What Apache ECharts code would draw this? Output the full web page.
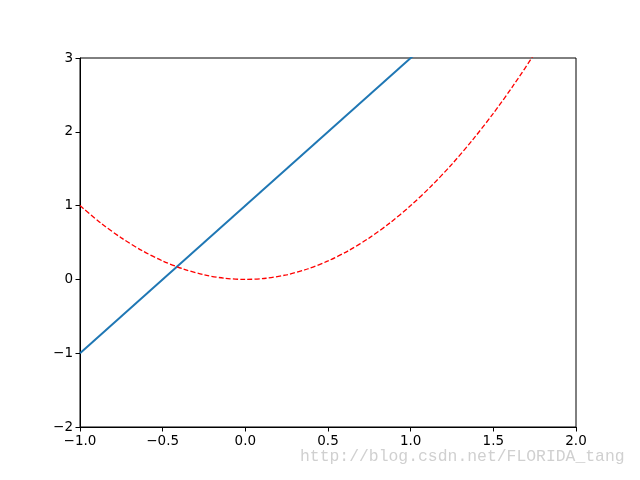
<!DOCTYPE html>
<html><head><meta charset="utf-8">
<script src="https://cdn.jsdelivr.net/npm/echarts@6/dist/echarts.min.js"></script>
<style>html,body{margin:0;padding:0;background:#fff}#c{width:640px;height:480px}</style>
</head><body><div id="c"></div>
<script>
var xLine = [-1, 2];
var yLine = [-1, 5];
var xCurve = [-1, -0.875, -0.75, -0.625, -0.5, -0.375, -0.25, -0.125, 0, 0.125, 0.25, 0.375, 0.5, 0.625, 0.75, 0.875, 1, 1.125, 1.25, 1.375, 1.5, 1.625, 1.75, 1.875, 2];
var yCurve = [1, 0.766, 0.5625, 0.391, 0.25, 0.141, 0.0625, 0.0156, 0, 0.0156, 0.0625, 0.141, 0.25, 0.391, 0.5625, 0.766, 1, 1.266, 1.5625, 1.891, 2.25, 2.641, 3.0625, 3.516, 4];
var xTicks = [-1.0, -0.5, 0.0, 0.5, 1.0, 1.5, 2.0];
var yTicks = [-2, -1, 0, 1, 2, 3];

function fmt(v, d) {
  var s = d ? Math.abs(v).toFixed(d) : String(Math.abs(Math.round(v)));
  return (v < 0 ? '\u2212' : '') + s;
}
function zip(a, b) { return a.map(function (v, i) { return [v, b[i]]; }); }

var chart = echarts.init(document.getElementById('c'), null, {renderer: 'canvas'});
chart.setOption({
  animation: false,
  grid: {left: 80, right: 64, top: 58, bottom: 53, show: true, borderColor: '#000', borderWidth: 1, containLabel: false},
  xAxis: {
    type: 'value', min: -1, max: 2, interval: 0.5,
    axisLine: {show: true, onZero: false, lineStyle: {color: '#000', width: 1}},
    axisTick: {show: true, length: 4.5, lineStyle: {color: '#000', width: 1}},
    axisLabel: {color: '#000', fontFamily: 'DejaVu Sans', fontSize: 13.5, margin: 7, formatter: function (v) { return fmt(v, 1); }},
    splitLine: {show: false}
  },
  yAxis: {
    type: 'value', min: -2, max: 3, interval: 1,
    axisLine: {show: true, onZero: false, lineStyle: {color: '#000', width: 1}},
    axisTick: {show: true, length: 4.5, lineStyle: {color: '#000', width: 1}},
    axisLabel: {color: '#000', fontFamily: 'DejaVu Sans', fontSize: 13.5, margin: 7, formatter: function (v) { return fmt(v, 0); }},
    splitLine: {show: false}
  },
  series: [
    {type: 'line', data: zip(xLine, yLine), showSymbol: false, clip: true,
     lineStyle: {color: '#1f77b4', width: 2}},
    {type: 'line', data: zip(xCurve, yCurve), showSymbol: false, clip: true, smooth: 0.3,
     lineStyle: {color: '#ff0000', width: 1.3, type: [5, 2.2]}}
  ],
  graphic: [
    {type: 'text', left: 300, top: 449, style: {text: 'http://blog.csdn.net/FLORIDA_tang', fill: '#d0d0d0', font: '16.4px "Liberation Mono", monospace'}}
  ]
});
</script></body></html>
